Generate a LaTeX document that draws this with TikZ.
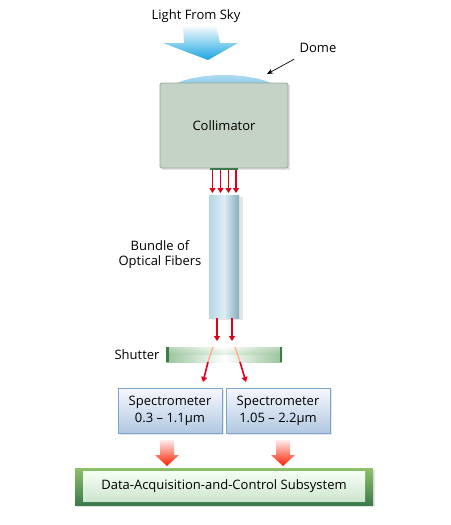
\documentclass[tikz,border=0pt]{standalone}
\usepackage{fontspec}
\setmainfont{Open Sans}
\usetikzlibrary{arrows.meta}
\definecolor{skyblue}{HTML}{18A4E0}
\definecolor{domeblue}{HTML}{8CCBEB}
\definecolor{colfill}{HTML}{C4D3C5}
\definecolor{colline}{HTML}{97A897}
\definecolor{redarr}{HTML}{E0001B}
\definecolor{darkgreen}{HTML}{3C7A4C}
\definecolor{midgreen}{HTML}{8FC06A}
\definecolor{specline}{HTML}{7BA5CC}
\definecolor{shutgreen}{HTML}{98C49A}
\definecolor{fibleft}{HTML}{B5D6E2}
\definecolor{fibmid}{HTML}{DCEEF4}
\definecolor{fibright}{HTML}{86ADBE}
\begin{document}
\begin{tikzpicture}[x=1pt,y=-1pt,
  lbl/.style={font=\fontsize{13}{15.5}\selectfont, text=black},
  redar/.style={draw=redarr, line width=1.6pt, -{Triangle[length=5pt,width=6pt]}},
  shadowbox/.style={fill=black!10},
  specbox/.style={draw=specline, line width=0.8pt, top color=blue!3!white, bottom color=specline!60!white, minimum width=104pt, minimum height=45pt, align=center, inner sep=0pt, font=\fontsize{13}{17}\selectfont, text=black},
]
\useasboundingbox (0,0) rectangle (450,525);
% title
\node[lbl] (sky) at (196,16) {Light From Sky};
% big blue arrow
\shade[top color=white, bottom color=skyblue, shading angle=0]
  (183,25) -- (216,25) -- (220,43) -- (238,43) -- (208,60) -- (163,43) -- (184,43) -- cycle;
% dome
\shade[top color=domeblue!60!white, bottom color=domeblue] (175,84) .. controls (200,72) and (248,72) .. (273,84) -- cycle;
\node[lbl] (dome) at (318,48) {Dome};
\coordinate (domept) at (267,74);
\draw[line width=0.7pt, -{Stealth[length=6pt,width=5pt]}] (dome.south west) ++(-2,3) -- (domept);
% collimator
\fill[shadowbox] (162,85) rectangle (290,170);
\node[draw=colline, fill=colfill, line width=0.8pt, rounded corners=1.5pt, minimum width=128pt, minimum height=85pt, inner sep=0pt, lbl] (coll) at (224,125.5) {Collimator};
\fill[darkgreen] (210,167.5) rectangle (238,170);
% four red arrows
\foreach \x in {212.5,220.5,228.5,236} \draw[redar] (\x,170) -- (\x,193);
% fiber cylinder
\fill[black!10] (212,197) rectangle (243,320);
\node[draw=none, left color=fibleft, right color=fibright, middle color=fibmid, minimum width=30pt, minimum height=123pt, inner sep=0pt] (fib) at (224,256.5) {};
\node[lbl, align=center] (bund) at (160,254.5) {Bundle of\\Optical Fibers};
\draw[redar] (217,318) -- (217,341);
\draw[redar] (232,318) -- (232,341);
% shutter
\node[lbl] (shlbl) at (137,355) {Shutter};
\node[draw=none, left color=shutgreen, right color=shutgreen, middle color=white, minimum width=116pt, minimum height=15pt, inner sep=0pt] (shut) at (224,354.5) {};
\shade[top color=white, bottom color=shutgreen, opacity=0.3] (168,347) rectangle (280,354.5);
\fill[darkgreen] (166,347) rectangle (168.5,362);
\fill[darkgreen] (279.5,347) rectangle (282,362);
\draw[orange!60!red!45!white, line width=1.3pt] (213,347) -- (208,362);
\draw[orange!60!red!45!white, line width=1.3pt] (235,347) -- (240,362);
\draw[redar] (208,362) -- (203,382);
\draw[redar] (240,362) -- (246,382);
% spectrometers
\fill[black!10] (120,390) rectangle (224,435);
\fill[black!10] (228,390) rectangle (332,435);
\node[specbox] (spec1) at (170,410.5) {Spectrometer\\0.3 -- 1.1µm};
\node[specbox] (spec2) at (278,410.5) {Spectrometer\\1.05 -- 2.2µm};
% fat red arrows
\foreach \cx in {167,283}{
  \shade[top color=red!8!white, bottom color=red!75!orange, shading angle=0]
    (\cx-7,440) -- (\cx+7,440) -- (\cx+7,455) -- (\cx+12,455) -- (\cx,466) -- (\cx-12,455) -- (\cx-7,455) -- cycle;
}
% data acquisition
\fill[black!10] (77,470) rectangle (375,507);
\shade[top color=midgreen, bottom color=darkgreen] (75,468) rectangle (373,505);
\node[draw=none, top color=green!4!white, bottom color=green!30!gray!30!white, minimum width=282pt, minimum height=30pt, inner sep=0pt, lbl] (daq) at (224,486.5) {Data-Acquisition-and-Control Subsystem};
\end{tikzpicture}
\end{document}
